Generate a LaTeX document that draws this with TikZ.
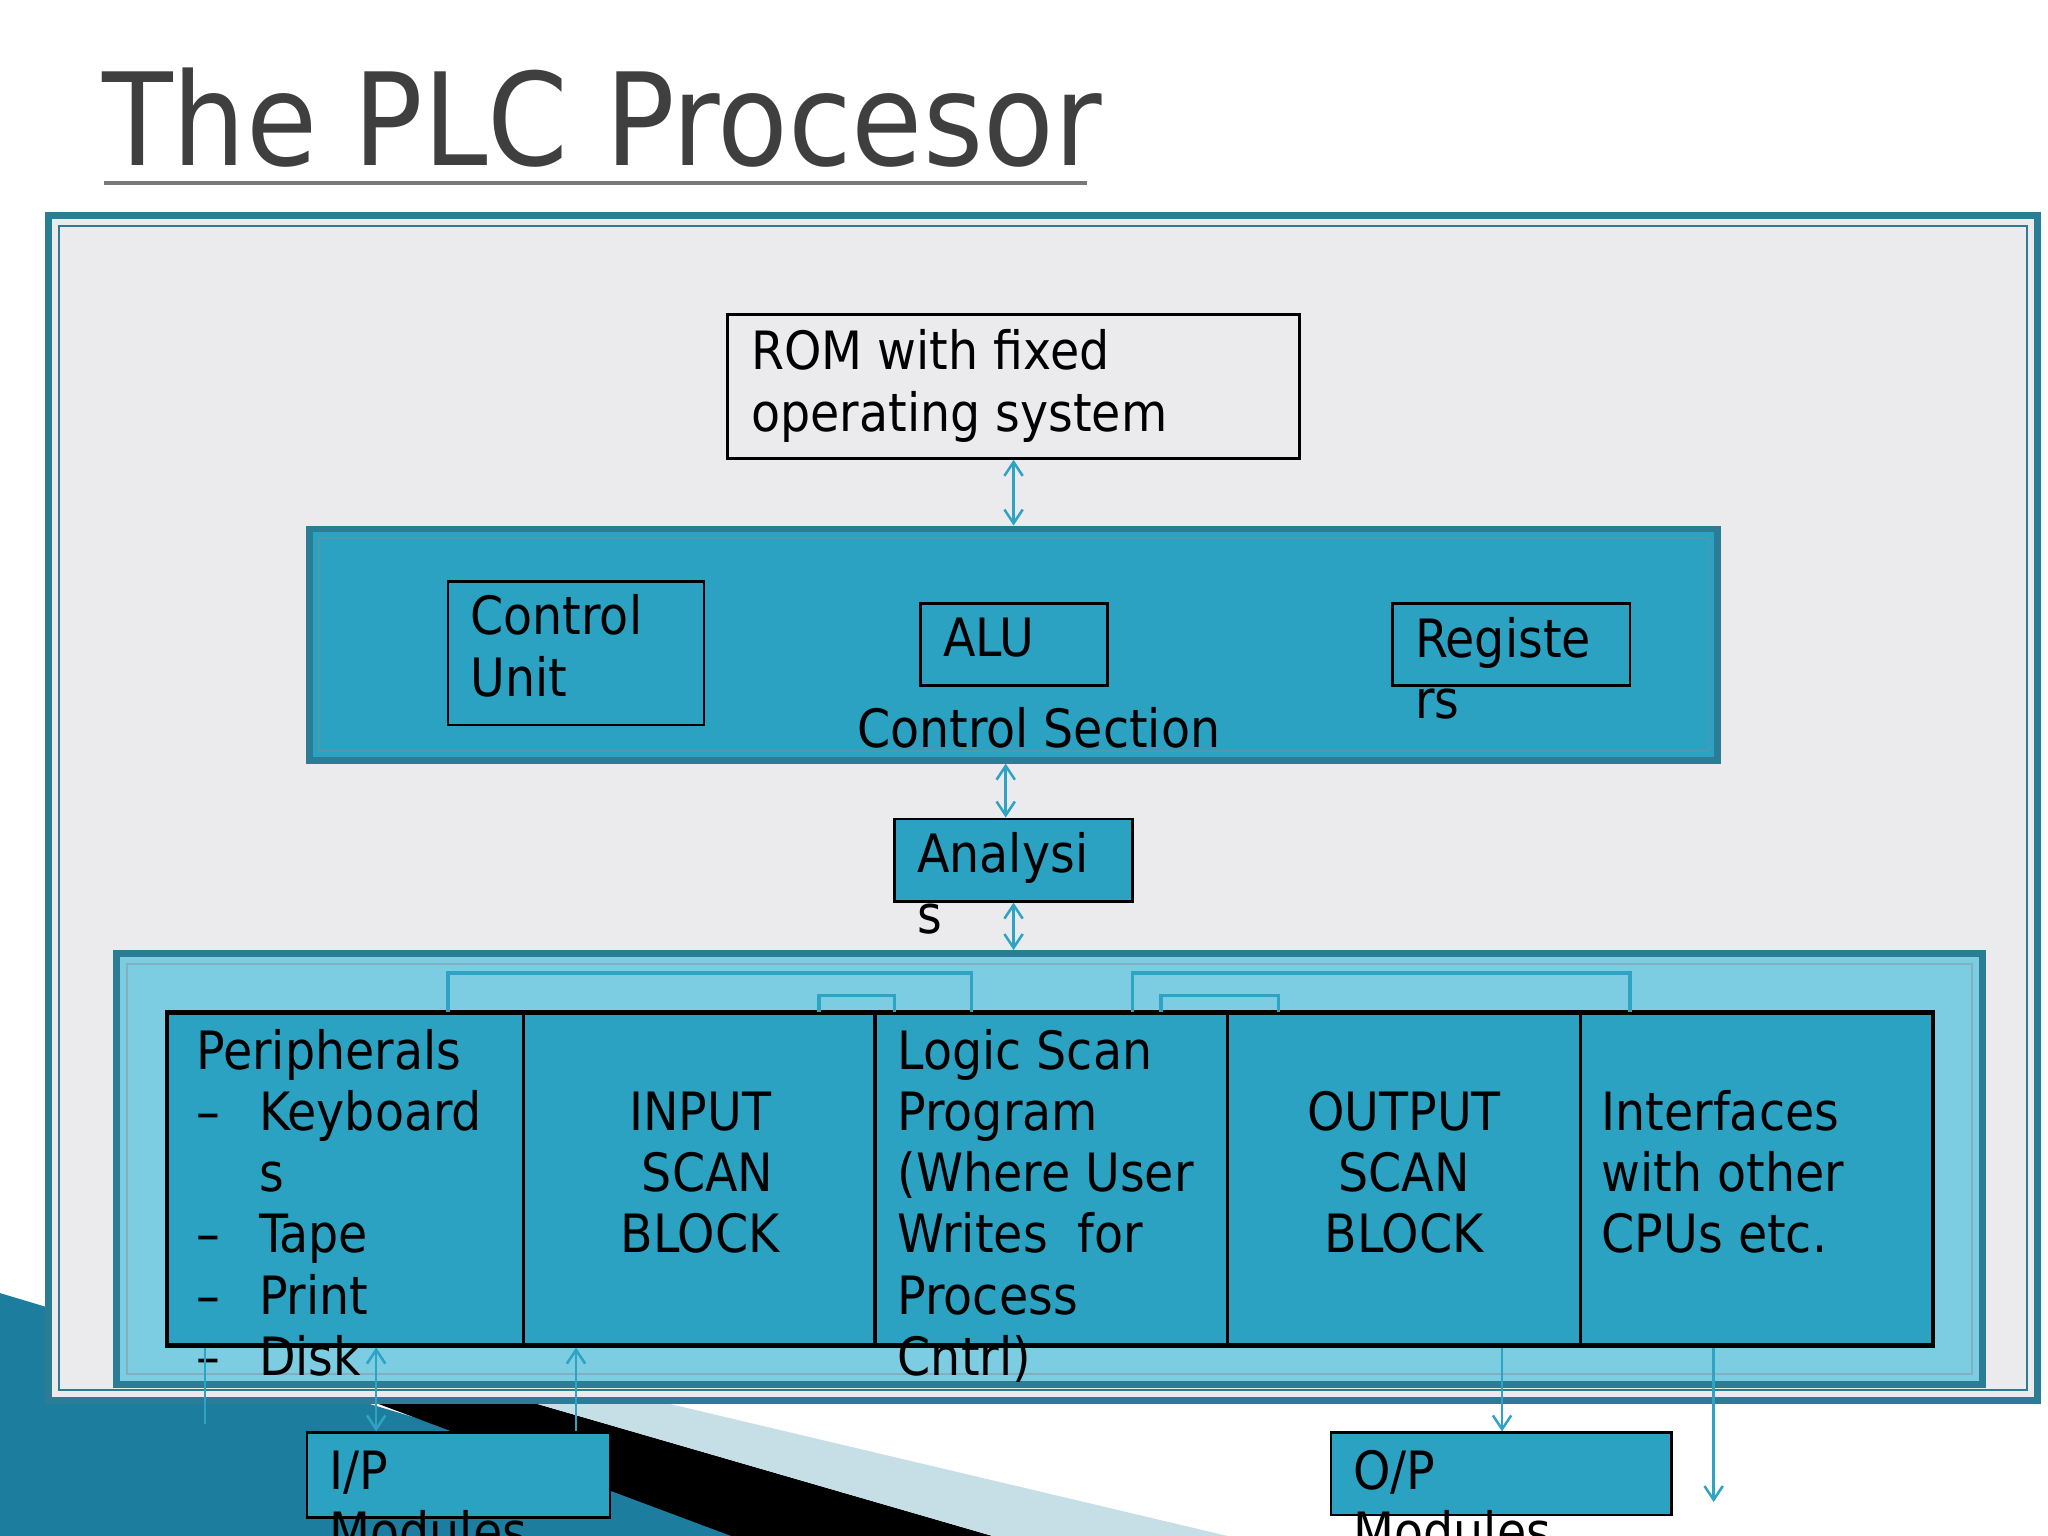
\documentclass[tikz,border=0pt]{standalone}
\usepackage{fontspec}
\setmainfont{DejaVu Sans Condensed}
\usetikzlibrary{arrows.meta,fit}
\definecolor{teal1}{HTML}{2A7D94}
\definecolor{mid}{HTML}{2CA2C2}
\definecolor{light}{HTML}{7CCCE2}
\definecolor{pbg}{HTML}{EBEBEE}
\definecolor{ttl}{HTML}{3F3F3F}
\definecolor{con}{HTML}{2EA3C3}
\definecolor{deep}{HTML}{1C7D9E}
\tikzset{
  box/.style={inner sep=0pt, draw=black, line width=1.2pt},
  txt/.style={inner sep=0pt, align=left, anchor=base west, font=\fontsize{23}{26.7}\selectfont},
  ctxt/.style={inner sep=0pt, align=center, anchor=base, font=\fontsize{23}{26.7}\selectfont},
  con/.style={draw=con, line width=1.1pt},
  dbl/.style={con, {Straight Barb[length=6pt,width=8pt]}-{Straight Barb[length=6pt,width=8pt]}},
  one/.style={con, -{Straight Barb[length=6pt,width=8pt]}},
  br/.style={draw=con, line width=1.5pt}
}
\newcommand{\dsh}{\makebox[0.96cm][l]{–}}
\begin{document}
\begin{tikzpicture}[x=0.02cm,y=-0.02cm]
\useasboundingbox (0,0) rectangle (1568,1176);
\clip (0,0) rectangle (1568,1176);
% decoration
\fill[deep] (0,990) -- (620,1176) -- (0,1176) -- cycle;
\fill[black] (250,1060) -- (360,1060) -- (760,1176) -- (560,1176) -- cycle;
\fill[deep!25] (360,1060) -- (450,1060) -- (940,1176) -- (760,1176) -- cycle;
% title
\node[inner sep=0pt, anchor=base west, text=ttl, font=\fontsize{56}{60}\selectfont] (title) at (78,127) {The PLC Procesor};
\draw[ttl!70, line width=2pt] (80,140) -- (832,140);
% main panel
\node[fit={(37,165)(1560,1072)}, inner sep=0pt, draw=teal1, line width=3pt, fill=pbg] (panel) {};
\draw[teal1, line width=0.8pt] (45,173) rectangle (1552,1064);
% ROM
\node[fit={(557,241)(995,351)}, box] (rom) {};
\node[txt] (romt) at (575,330) {ROM with fixed\\operating system};
% control section
\node[fit={(237,405)(1315,582)}, inner sep=0pt, draw=teal1, line width=3pt, fill=mid] (cs) {};
\draw[teal1!80, line width=0.8pt] (244,412) rectangle (1308,575);
\node[fit={(343,445)(539,555)}, box] (cu) {};
\node[txt] at (360,533) {Control\\Unit};
\node[fit={(705,462)(848,525)}, box] (alu) {};
\node[txt] at (722,503) {ALU};
\node[fit={(1066,462)(1248,525)}, box] (reg) {};
\node[txt] at (1083,550) {Registe\\rs};
\node[txt] (cst) at (656,572) {Control Section};
% analysis
\node[fit={(685,627)(867,690)}, box, fill=mid] (an) {};
\node[txt] at (702,715) {Analysi\\s};
% lower panel
\node[fit={(89,730)(1518,1060)}, inner sep=0pt, draw=teal1, line width=3pt, fill=light] (lp) {};
\draw[teal1!60, line width=0.8pt] (97,738) rectangle (1510,1052);
\node[fit={(128,775)(1480,1030)}, inner sep=0pt, draw=black, line width=2pt, fill=mid] (tab) {};
\foreach \x in {401,670,940,1210} \draw[black, line width=1.5pt] (\x,775) -- (\x,1030);
\draw[br] (343,775) -- (343,745) -- (744,745) -- (744,775);
\draw[br] (627,775) -- (627,762) -- (685,762) -- (685,775);
\draw[br] (867,775) -- (867,745) -- (1248,745) -- (1248,775);
\draw[br] (889,775) -- (889,762) -- (979,762) -- (979,775);
\node[txt] at (150,1053) {Peripherals\\\dsh Keyboard\\\hspace*{0.96cm}s\\\dsh Tape\\\dsh Print\\\dsh Disk};
\node[ctxt] at (536,959) {INPUT\\\ SCAN\\BLOCK};
\node[txt] at (687,1053) {Logic Scan\\Program\\(Where User\\Writes\ \ for\\Process\\Cntrl)};
\node[ctxt] at (1075,959) {OUTPUT\\SCAN\\BLOCK};
\node[txt] at (1226,959) {Interfaces\\with other\\CPUs etc.};
% modules
\node[fit={(235,1097)(467,1162)}, box, fill=mid] (ip) {};
\node[txt] at (252,1187) {I/P\\Modules};
\node[fit={(1019,1097)(1280,1160)}, box, fill=mid] (op) {};
\node[txt] at (1036,1187) {O/P\\Modules};
\coordinate (free) at (1312,1150);
% connectors
\draw[dbl] (rom.south -| 776,0) -- (cs.north -| 776,0);
\draw[dbl] (cs.south -| 770,0) -- (an.north -| 770,0);
\draw[dbl] (an.south -| 776,0) -- (lp.north -| 776,0);
\draw[con] (tab.south -| 157,0) -- (157,1090);
\draw[dbl] (tab.south -| 288,0) -- (ip.north -| 288,0);
\draw[one] (ip.north -| 441,0) -- (tab.south -| 441,0);
\draw[one] (tab.south -| 1150,0) -- (op.north -| 1150,0);
\draw[one] (tab.south -| 1312,0) -- (free);
\end{tikzpicture}
\end{document}
